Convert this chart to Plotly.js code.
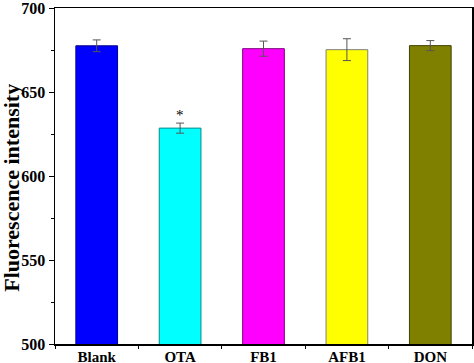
<!DOCTYPE html>
<html>
<head>
<meta charset="utf-8">
<script src="https://cdn.plot.ly/plotly-3.0.1.min.js"></script>
<style>html,body{margin:0;padding:0;background:#fff;}#chart{width:474px;height:363px;}</style>
</head>
<body>
<div id="chart"></div>
<script>
const categories = ["Blank", "OTA", "FB1", "AFB1", "DON"];
const values = [677.5, 628.5, 675.8, 675.2, 677.6];
const errors = [3.5, 3.0, 4.5, 6.5, 3.0];
const fillColors = ["#0000ff", "#00ffff", "#ff00ff", "#ffff00", "#808000"];
const lineColors = ["#00008b", "#008b8b", "#800080", "#808080", "#404000"];
const markLabels = ["", "*", "", "", ""];
const yTitle = "Fluorescence intensity";

const trace = {
  type: "bar",
  x: categories,
  y: values,
  width: 0.5,
  marker: {color: fillColors, line: {color: lineColors, width: 1}},
  error_y: {type: "data", array: errors, visible: true, color: "#555555", thickness: 1, width: 4},
  hoverinfo: "none"
};

const annotations = categories.map((c, i) => markLabels[i] ? {
  x: c, y: values[i] + errors[i] - 1, text: markLabels[i], showarrow: false,
  yanchor: "bottom", font: {family: "Liberation Serif", size: 15, color: "#000"}
} : null).filter(a => a);
annotations.push({
  xref: "paper", yref: "paper", x: -0.103, y: 0.465, xanchor: "center", yanchor: "middle",
  text: yTitle, textangle: -90, showarrow: false,
  font: {family: "Liberation Serif", size: 22, color: "#000", weight: "bold"}
});

const layout = {
  width: 474, height: 363,
  margin: {l: 55, r: 2, t: 8, b: 19},
  paper_bgcolor: "#fff", plot_bgcolor: "#fff",
  showlegend: false,
  font: {family: "Liberation Serif", size: 15, color: "#000"},
  xaxis: {
    range: [-0.5, 4.5], showline: true, linecolor: "#000", linewidth: 1.5, mirror: true,
    ticks: "outside", tickson: "boundaries", ticklen: 3, tickcolor: "#000", tickwidth: 1,
    showgrid: false, zeroline: false, automargin: false, ticklabelstandoff: -2,
    ticklabeloverflow: "allow",
    tickfont: {family: "Liberation Serif", size: 15, color: "#000", weight: "bold"}
  },
  yaxis: {
    range: [500, 700], tickmode: "linear", tick0: 500, dtick: 50,
    showline: true, linecolor: "#000", linewidth: 1.5, mirror: true,
    ticks: "outside", ticklen: 5, tickcolor: "#000", tickwidth: 1,
    minor: {dtick: 25, ticks: "outside", ticklen: 3, tickcolor: "#000"},
    showgrid: false, zeroline: false, automargin: false, ticklabeloverflow: "allow",
    tickfont: {family: "Liberation Serif", size: 16, color: "#000", weight: "bold"}
  },
  annotations: annotations
};

Plotly.newPlot("chart", [trace], layout, {staticPlot: true, displayModeBar: false});
</script>
</body>
</html>
